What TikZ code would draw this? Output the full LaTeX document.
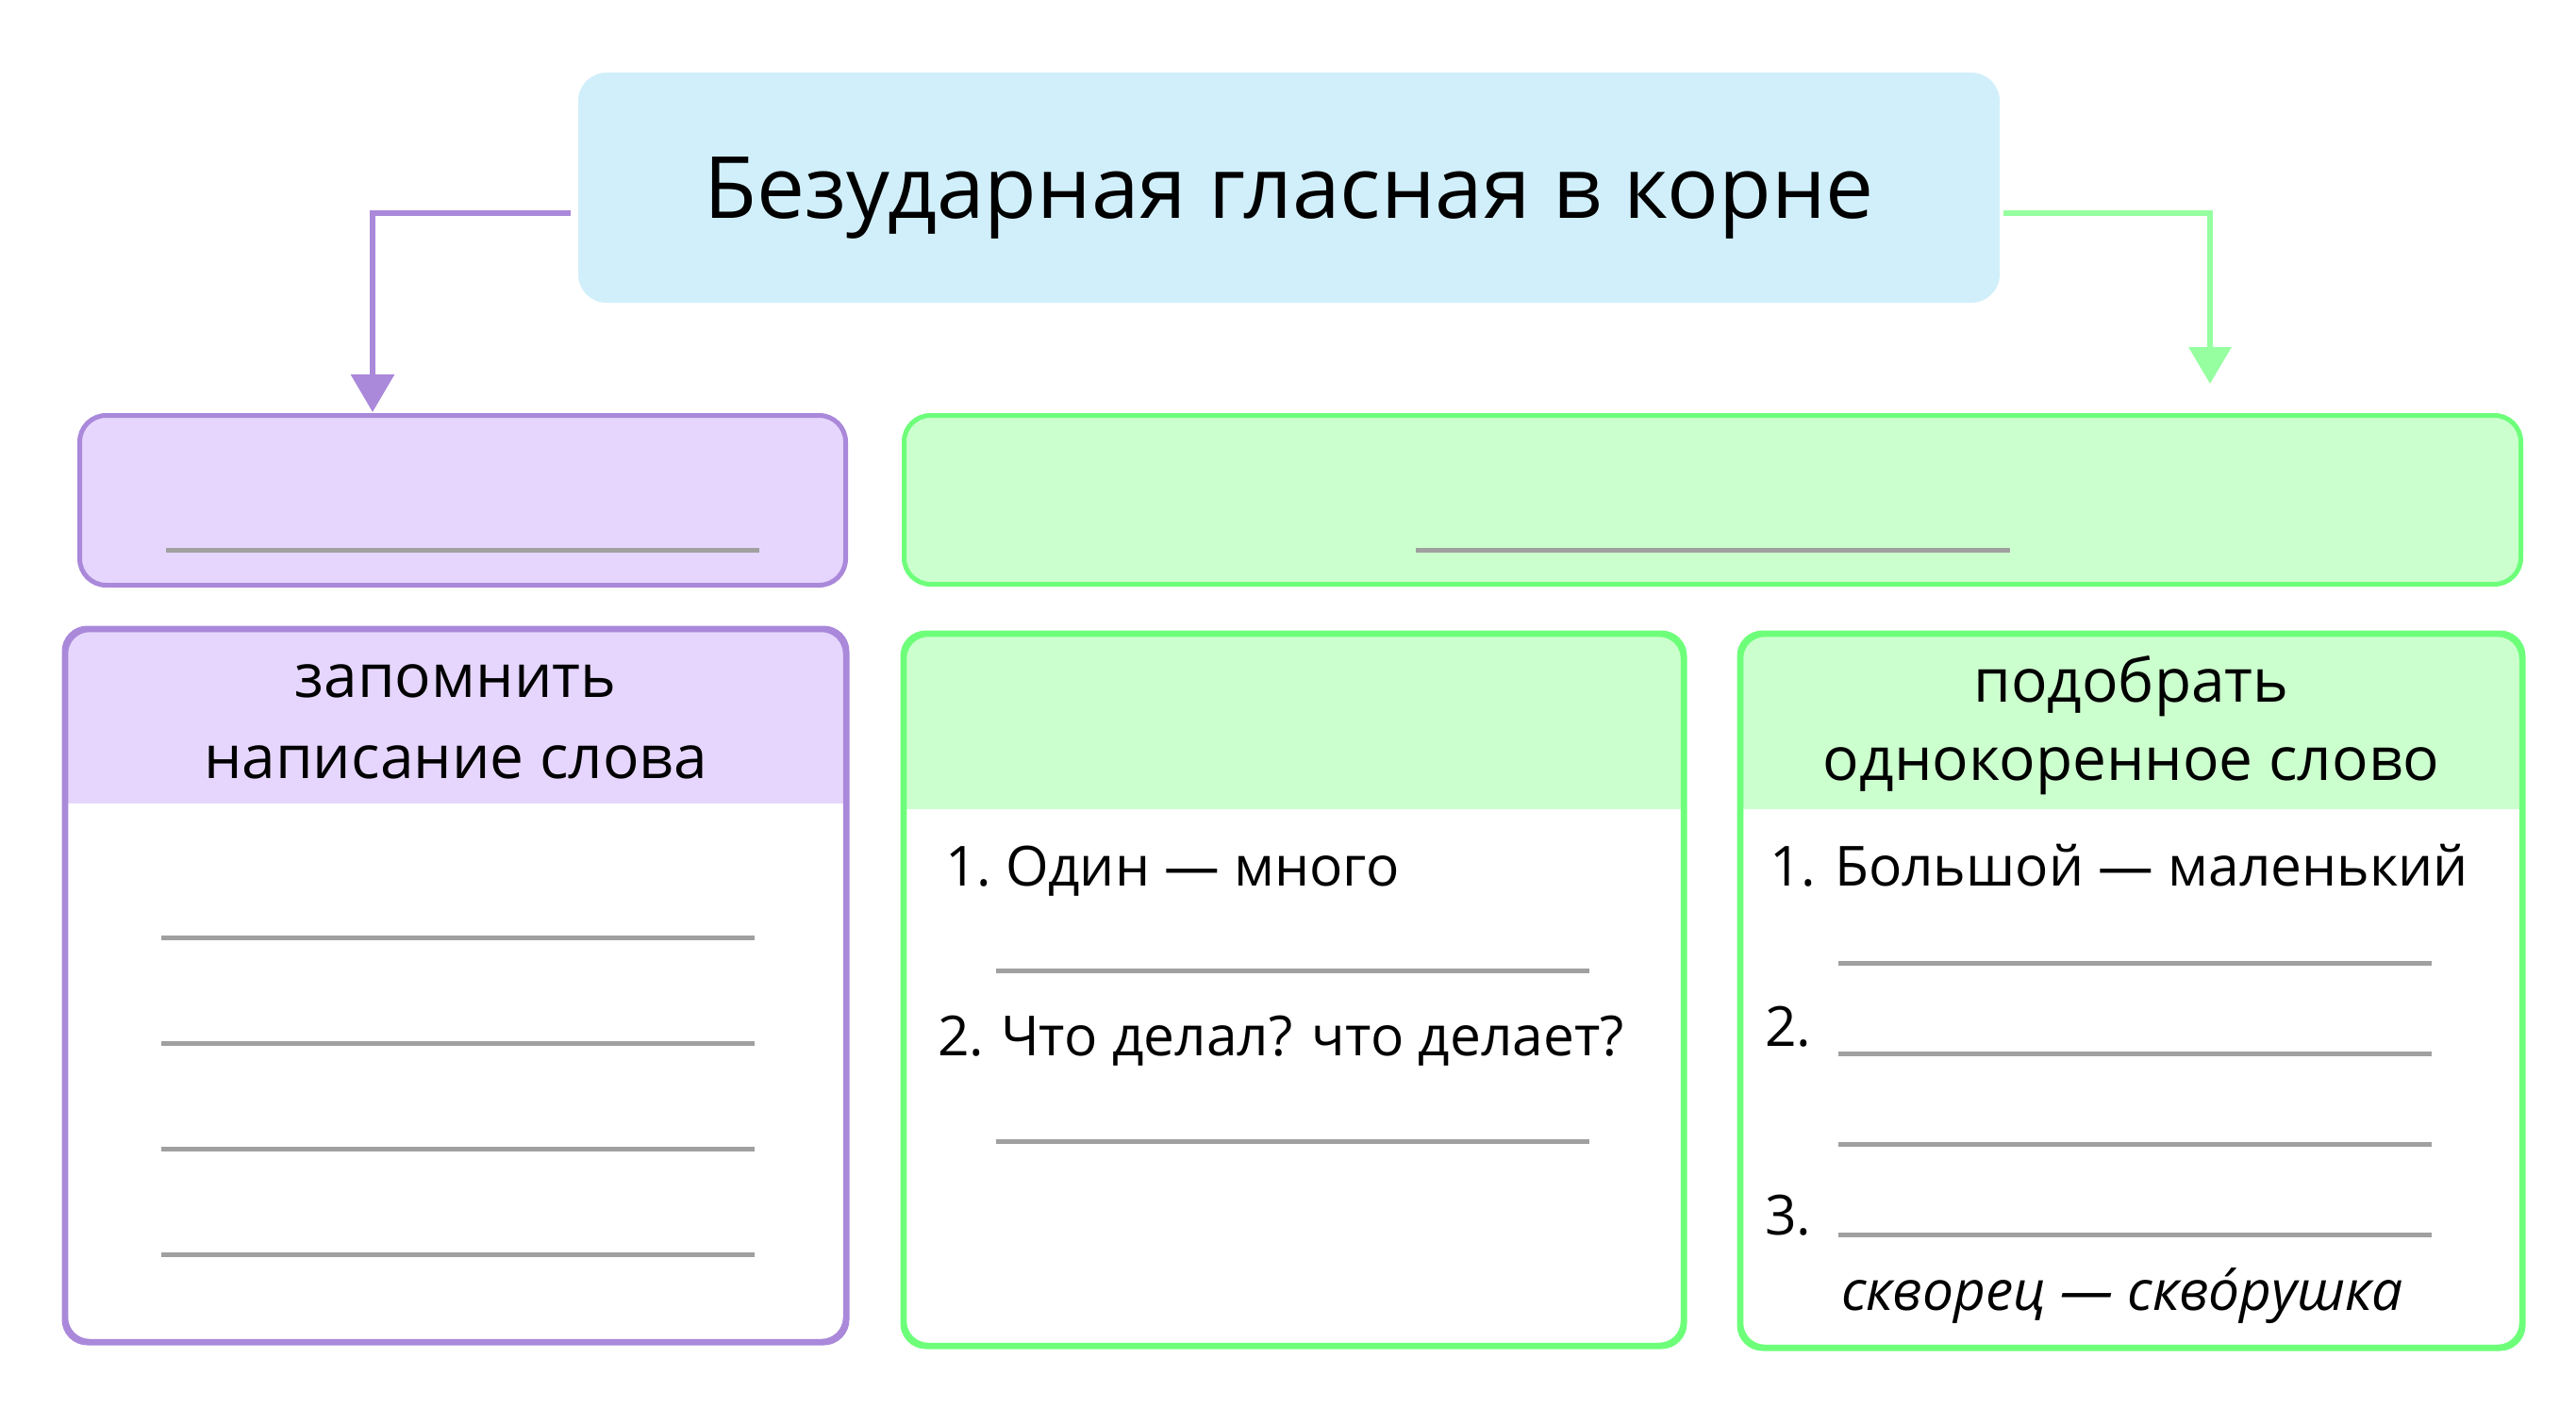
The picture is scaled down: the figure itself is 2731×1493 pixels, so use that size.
\documentclass[tikz,border=0pt]{standalone}
\usepackage{fontspec}
\setmainfont{Open Sans}
\usetikzlibrary{arrows.meta}
\definecolor{titlebg}{RGB}{209,239,250}
\definecolor{pfill}{RGB}{230,214,253}
\definecolor{pline}{RGB}{170,136,218}
\definecolor{gfill}{RGB}{204,255,206}
\definecolor{gline}{RGB}{110,255,122}
\definecolor{garrow}{RGB}{150,255,160}
\definecolor{lgrey}{RGB}{160,160,160}
\tikzset{
  titlebox/.style={fill=titlebg, rounded corners=30pt, minimum width=1507pt, minimum height=244pt, inner sep=0pt, text height=65pt, text depth=0pt, font=\fontsize{91}{100}\selectfont},
  topbox/.style={rounded corners=28pt, line width=5pt, inner sep=0pt},
  lowbox/.style={rounded corners=25pt, line width=4.5pt, inner sep=0pt, fill=white},
  blank/.style={draw=lgrey, line width=5pt},
  conn/.style={line width=6.5pt},
  head/.style={inner sep=0pt, anchor=base, align=center},
  item/.style={inner sep=0pt, anchor=base west, font=\fontsize{58.6}{70}\selectfont},
}
\begin{document}
\begin{tikzpicture}[x=1pt,y=-1pt]
\useasboundingbox[fill=white] (0,0) rectangle (2731,1493);

% title
\node[titlebox] (title) at (1366.5,199) {Безударная гласная в корне};

% top boxes
\node[topbox, draw=pline, fill=pfill, minimum width=812pt, minimum height=180pt] (ptop) at (490.5,530.5) {};
\node[topbox, draw=gline, fill=gfill, minimum width=1714pt, minimum height=179pt] (gtop) at (1815.5,530) {};
\draw[blank] (176,583) -- (805,583);
\draw[blank] (1501,583) -- (2131,583);

% connectors
\draw[conn, pline, -{Triangle[width=45pt,length=40pt]}] ([xshift=-8pt,yshift=-27pt]title.west) -| ([xshift=-95.5pt,yshift=1pt]ptop.north);
\draw[conn, garrow, -{Triangle[width=44pt,length=39pt]}] ([xshift=4pt,yshift=-27pt]title.east) -| ([xshift=527.5pt,yshift=31pt]gtop.north);

% lower boxes
\node[lowbox, draw=pline, minimum width=826pt, minimum height=754pt,
  path picture={\fill[pfill, sharp corners] (path picture bounding box.north west) rectangle ([yshift=-184pt]path picture bounding box.north east);}]
  (plow) at (483,1045) {};
\node[lowbox, draw=gline, minimum width=825pt, minimum height=753pt,
  path picture={\fill[gfill, sharp corners] (path picture bounding box.north west) rectangle ([yshift=-185pt]path picture bounding box.north east);}]
  (gmid) at (1371.5,1049.5) {};
\node[lowbox, draw=gline, minimum width=827pt, minimum height=755pt,
  path picture={\fill[gfill, sharp corners] (path picture bounding box.north west) rectangle ([yshift=-185pt]path picture bounding box.north east);}]
  (gright) at (2259.5,1050.5) {};
% redraw borders over header fills
\draw[pline, line width=4.5pt, rounded corners=25pt] (plow.north west) rectangle (plow.south east);
\draw[gline, line width=4.5pt, rounded corners=25pt] (gmid.north west) rectangle (gmid.south east);
\draw[gline, line width=4.5pt, rounded corners=25pt] (gright.north west) rectangle (gright.south east);

% headers (base anchor = baseline of last line)
\node[head, font=\fontsize{64}{86}\selectfont] (phead) at (483,825) {запомнить\\написание слова};
\node[head, font=\fontsize{64}{83}\selectfont] (ghead) at (2259.5,827) {подобрать\\однокоренное слово};

% left box lines
\foreach \yy in {994,1106,1218,1330} \draw[blank] (171,\yy) -- (800,\yy);

% middle box
\node[item] (m1n) at (1002,939) {1.};
\node[item] (m1t) at (1066,939) {Один — много};
\draw[blank] (1056,1029) -- (1685,1029);
\node[item] (m2n) at (994,1119) {2.};
\node[item] (m2t) at (1061,1119) {Что делал? что делает?};
\draw[blank] (1056,1210) -- (1685,1210);

% right box
\node[item] (r1n) at (1876,939) {1.};
\node[item] (r1t) at (1945,939) {Большой — маленький};
\draw[blank] (1949,1021) -- (2578,1021);
\node[item] (r2n) at (1871,1109) {2.};
\draw[blank] (1949,1117) -- (2578,1117);
\draw[blank] (1949,1213) -- (2578,1213);
\node[item] (r3n) at (1871,1309) {3.};
\draw[blank] (1949,1309) -- (2578,1309);
\node[item, font=\fontsize{58.6}{70}\selectfont\itshape] (r3t) at (1952,1389) {скворец — скво́рушка};
\end{tikzpicture}
\end{document}
